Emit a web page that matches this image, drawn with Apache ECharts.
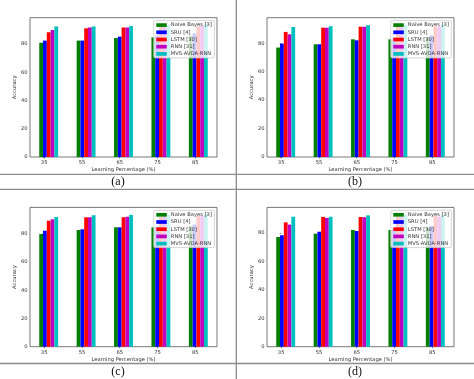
<!DOCTYPE html>
<html>
<head>
<meta charset="utf-8">
<script src="https://cdn.jsdelivr.net/npm/echarts@6/dist/echarts.min.js"></script>
<style>
html,body{margin:0;padding:0;background:#fff;}
#chart{width:474px;height:379px;}
</style>
</head>
<body>
<div id="chart"></div>
<script>
// ---- data ----
const categories = ['35', '55', '65', '75', '85'];
const seriesNames = ['Naive Bayes [3]', 'SRU [4]', 'LSTM [30]', 'RNN [31]', 'MVS-AVOA-RNN'];
const yTicks = [0, 20, 40, 60, 80];
const panelLabels = ['(a)', '(b)', '(c)', '(d)'];
const xAxisTitle = 'Learning Percentage (%)';
const yAxisTitle = 'Accuracy';

// panel (a)
const naiveA = [80.9, 82.4, 84.2, 84.7, 86.0];
const sruA   = [82.4, 82.4, 85.2, 86.0, 87.5];
const lstmA  = [88.3, 91.1, 91.6, 92.0, 92.5];
const rnnA   = [89.9, 91.6, 91.6, 92.3, 93.0];
const mvsA   = [92.3, 92.3, 92.7, 93.3, 94.0];
// panel (b)
const naiveB = [77.0, 79.3, 82.8, 82.8, 84.5];
const sruB   = [79.8, 79.3, 82.1, 84.0, 85.5];
const lstmB  = [88.0, 91.0, 91.7, 91.5, 92.0];
const rnnB   = [86.3, 91.0, 91.7, 91.5, 92.0];
const mvsB   = [91.5, 92.0, 92.7, 92.8, 93.2];
// panel (c)
const naiveC = [79.8, 82.6, 84.5, 84.5, 85.5];
const sruC   = [82.1, 83.1, 84.5, 85.0, 86.5];
const lstmC  = [89.2, 91.6, 91.6, 92.0, 92.5];
const rnnC   = [90.2, 91.6, 92.0, 92.2, 92.8];
const mvsC   = [91.8, 93.0, 93.3, 93.4, 94.0];
// panel (d)
const naiveD = [77.2, 79.5, 82.1, 82.1, 84.0];
const sruD   = [78.4, 80.9, 81.4, 83.0, 85.0];
const lstmD  = [87.5, 91.3, 91.3, 91.5, 92.0];
const rnnD   = [85.9, 90.6, 91.0, 91.2, 91.5];
const mvsD   = [91.5, 91.5, 92.4, 92.6, 93.0];

const panelData = [
  [naiveA, sruA, lstmA, rnnA, mvsA],
  [naiveB, sruB, lstmB, rnnB, mvsB],
  [naiveC, sruC, lstmC, rnnC, mvsC],
  [naiveD, sruD, lstmD, rnnD, mvsD]
];
const yMax = [98.6, 98.0, 98.6, 98.0];

// ---- styling / layout ----
const colors = ['#008000', '#0000ff', '#ff0000', '#bf00bf', '#00bfbf'];
const FS = 5.2;
const txt = '#333';
const offsets = [[0, 0], [237, 0], [0, 189.7], [237, 189.7]];
const G = {left: 30, top: 17.7, width: 187, height: 139.3};

const grids = [], xAxes = [], yAxes = [], series = [], legends = [], graphics = [];
const tickIdx = categories.map((c, i) => i);

offsets.forEach((o, p) => {
  grids.push({
    left: o[0] + G.left, top: o[1] + G.top, width: G.width, height: G.height,
    show: true, borderColor: '#555', borderWidth: 0.8, backgroundColor: 'transparent'
  });
  // category axis holding the bars
  xAxes.push({
    type: 'category', gridIndex: p, data: categories, position: 'top', boundaryGap: true,
    axisLine: {show: false}, axisTick: {show: false}, axisLabel: {show: false}, splitLine: {show: false}
  });
  yAxes.push({
    type: 'value', gridIndex: p, min: 0, max: yMax[p],
    axisLine: {show: false},
    axisTick: {show: true, length: 1.5, customValues: yTicks, lineStyle: {color: txt, width: 0.6}},
    axisLabel: {customValues: yTicks, fontSize: FS, color: txt, margin: 2.5, fontFamily: 'DejaVu Sans'},
    splitLine: {show: false},
    name: yAxisTitle, nameLocation: 'middle', nameGap: 12.5,
    nameTextStyle: {fontSize: FS, color: txt, fontFamily: 'DejaVu Sans'}
  });
  panelData[p].forEach((arr, s) => {
    series.push({
      type: 'bar', name: seriesNames[s], xAxisIndex: p, yAxisIndex: p,
      data: arr, barWidth: 3.78, barGap: '0%',
      itemStyle: {color: colors[s]}, silent: true
    });
  });
  legends.push({
    data: seriesNames.map(n => ({name: n, icon: 'rect'})),
    orient: 'vertical',
    right: 474 - (o[0] + 214.4), top: o[1] + 20.6,
    itemWidth: 10.5, itemHeight: 3.7, itemGap: 2.2,
    padding: [2, 2.5, 1.5, 2.5],
    backgroundColor: 'rgba(255,255,255,0.8)',
    borderColor: '#cccccc', borderWidth: 0.8, borderRadius: 1.5,
    selectedMode: false,
    textStyle: {fontSize: FS, color: txt, fontFamily: 'DejaVu Sans', padding: [0, 0, 0, -1]}
  });
  graphics.push({
    type: 'text', x: o[0] + 118, y: o[1] + 182,
    style: {text: panelLabels[p], font: '12px "Liberation Serif", "DejaVu Serif", serif',
      fill: '#111', textAlign: 'center', textVerticalAlign: 'middle'}
  });
});
// tick/label axes (value axes aligned with the bar positions)
offsets.forEach((o, p) => {
  xAxes.push({
    type: 'value', gridIndex: p, position: 'bottom', min: -0.375, max: 4.575,
    axisLine: {show: false}, splitLine: {show: false},
    axisTick: {show: true, length: 1.5, customValues: tickIdx, lineStyle: {color: txt, width: 0.6}},
    axisLabel: {customValues: tickIdx, fontSize: FS, color: txt, margin: 3, fontFamily: 'DejaVu Sans',
      formatter: v => categories[Math.round(v)] || ''},
    name: xAxisTitle, nameLocation: 'middle', nameGap: 10.5,
    nameTextStyle: {fontSize: FS, color: txt, fontFamily: 'DejaVu Sans'}
  });
});
// frame lines between the panels
const lineStyle = {stroke: '#8c8c8c', lineWidth: 1.3};
[[0, 174.3, 474, 174.3], [0, 189.3, 474, 189.3], [0, 363.5, 474, 363.5], [236.3, 0, 236.3, 379]]
  .forEach(l => graphics.push({type: 'line', shape: {x1: l[0], y1: l[1], x2: l[2], y2: l[3]}, style: lineStyle, silent: true}));

const chart = echarts.init(document.getElementById('chart'), null, {renderer: 'canvas'});
chart.setOption({
  animation: false,
  backgroundColor: '#ffffff',
  textStyle: {fontFamily: 'DejaVu Sans'},
  grid: grids, xAxis: xAxes, yAxis: yAxes, series: series, legend: legends,
  graphic: graphics
});
</script>
</body>
</html>
